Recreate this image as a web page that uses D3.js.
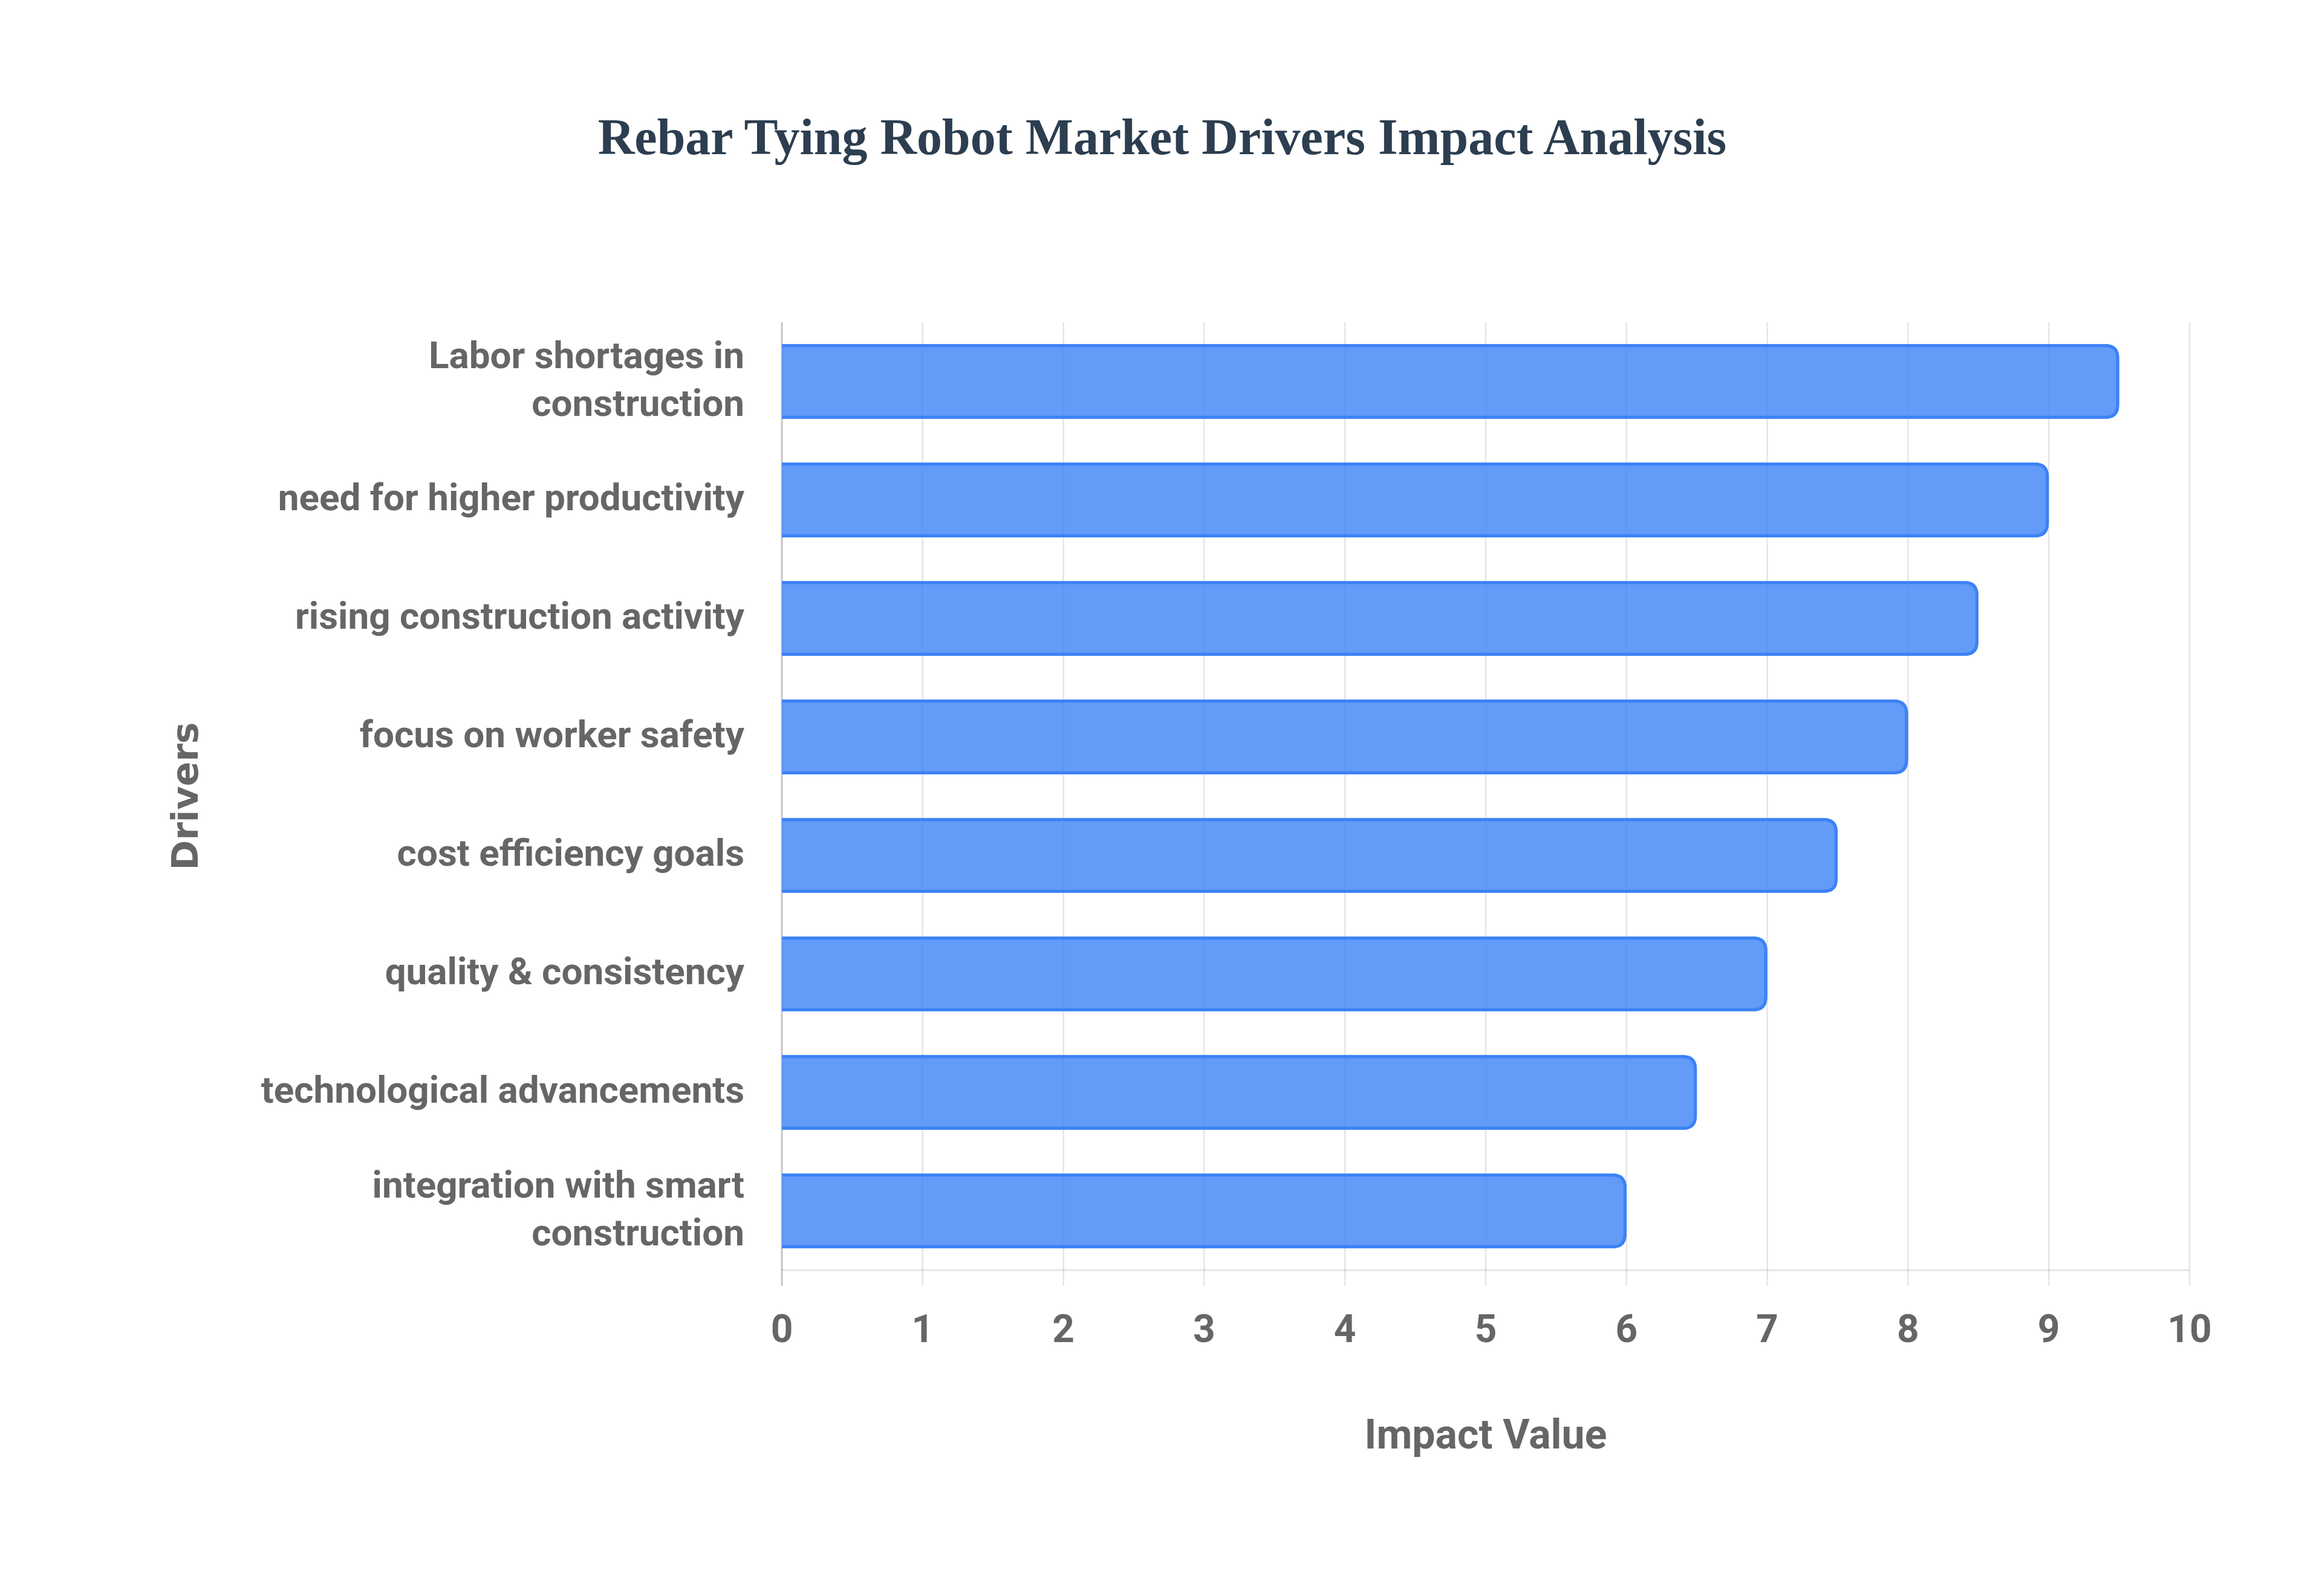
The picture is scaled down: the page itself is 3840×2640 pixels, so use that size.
<!DOCTYPE html>
<html>
<head>
<meta charset="utf-8">
<script src="https://cdn.jsdelivr.net/npm/d3@7"></script>
<style>
  html, body { margin: 0; padding: 0; background: #ffffff; }
  svg { display: block; }
</style>
</head>
<body>
<svg id="chart" width="3840" height="2640"></svg>
<script>
// ---- data ----
const chartTitle = "Rebar Tying Robot Market Drivers Impact Analysis";
const categoryLines = [
  ["Labor shortages in", "construction"],
  ["need for higher productivity"],
  ["rising construction activity"],
  ["focus on worker safety"],
  ["cost efficiency goals"],
  ["quality & consistency"],
  ["technological advancements"],
  ["integration with smart", "construction"]
];
const impactValues = [9.5, 9, 8.5, 8, 7.5, 7, 6.5, 6];
const xTicks = [0, 1, 2, 3, 4, 5, 6, 7, 8, 9, 10];
const xAxisTitle = "Impact Value";
const yAxisTitle = "Drivers";

// ---- layout ----
const W = 3840, H = 2640;
const plot = { left: 1293, right: 3621, top: 533, bottom: 2101 };
const svg = d3.select("#chart");

const x = d3.scaleLinear().domain([0, 10]).range([plot.left, plot.right]);
const y = d3.scaleBand()
  .domain(d3.range(categoryLines.length))
  .range([plot.top, plot.bottom])
  .paddingInner(0.37)
  .paddingOuter(0.185);

const gridColor = "rgba(0,0,0,0.1)";
const textColor = "#666666";
const sans = "Roboto, 'Liberation Sans', Arial, sans-serif";

// vertical grid lines (with tick extension)
svg.append("g").selectAll("line").data(xTicks).join("line")
  .attr("x1", d => x(d)).attr("x2", d => x(d))
  .attr("y1", plot.top).attr("y2", plot.bottom + 26)
  .attr("stroke", gridColor).attr("stroke-width", 2.5);

// axis border lines
svg.append("line")
  .attr("x1", plot.left).attr("x2", plot.left)
  .attr("y1", plot.top).attr("y2", plot.bottom + 26)
  .attr("stroke", "rgba(0,0,0,0.15)").attr("stroke-width", 3);
svg.append("line")
  .attr("x1", plot.left).attr("x2", plot.right)
  .attr("y1", plot.bottom).attr("y2", plot.bottom)
  .attr("stroke", "rgba(0,0,0,0.1)").attr("stroke-width", 3);

// bars
const sw = 5, r = 23;
function fillPath(v, i) {
  const x0 = x(0), x1 = x(v), y0 = y(i), y1 = y(i) + y.bandwidth();
  const rr = Math.min(r, (y1 - y0) / 2, x1 - x0);
  return `M${x0},${y0} H${x1 - rr} Q${x1},${y0} ${x1},${y0 + rr} V${y1 - rr} Q${x1},${y1} ${x1 - rr},${y1} H${x0} Z`;
}
function borderPath(v, i) {
  const h = sw / 2;
  const x0 = x(0), x1 = x(v) - h, y0 = y(i) + h, y1 = y(i) + y.bandwidth() - h;
  const rr = Math.min(r - h, (y1 - y0) / 2);
  return `M${x0},${y0} H${x1 - rr} Q${x1},${y0} ${x1},${y0 + rr} V${y1 - rr} Q${x1},${y1} ${x1 - rr},${y1} H${x0}`;
}
const bars = svg.append("g");
bars.selectAll("path.fill").data(impactValues).join("path")
  .attr("class", "fill")
  .attr("d", (d, i) => fillPath(d, i))
  .attr("fill", "rgba(59,130,246,0.8)");
bars.selectAll("path.border").data(impactValues).join("path")
  .attr("class", "border")
  .attr("d", (d, i) => borderPath(d, i))
  .attr("fill", "none")
  .attr("stroke", "#3b82f6")
  .attr("stroke-width", sw);

// y category labels
const lineH = 79;
const yLabels = svg.append("g")
  .attr("font-family", sans).attr("font-weight", 700)
  .attr("font-size", 62).attr("fill", textColor)
  .attr("text-anchor", "end");
categoryLines.forEach((lines, i) => {
  const c = y(i) + y.bandwidth() / 2 + 17;
  const t = yLabels.append("text").attr("x", plot.left - 62);
  lines.forEach((ln, k) => {
    t.append("tspan")
      .attr("x", plot.left - 62)
      .attr("y", c + (k - (lines.length - 1) / 2) * lineH)
      .text(ln);
  });
});

// x tick labels
svg.append("g").selectAll("text").data(xTicks).join("text")
  .attr("x", d => x(d)).attr("y", 2220)
  .attr("text-anchor", "middle")
  .attr("font-family", sans).attr("font-weight", 700)
  .attr("font-size", 64).attr("fill", textColor)
  .text(d => d);

// axis titles
svg.append("text")
  .attr("x", (plot.left + plot.right) / 2).attr("y", 2396)
  .attr("text-anchor", "middle")
  .attr("font-family", sans).attr("font-weight", 700)
  .attr("font-size", 68).attr("fill", textColor)
  .text(xAxisTitle);

svg.append("text")
  .attr("transform", `translate(327,${(plot.top + plot.bottom) / 2}) rotate(-90)`)
  .attr("text-anchor", "middle")
  .attr("font-family", "'DejaVu Sans', Verdana, sans-serif").attr("font-weight", 700)
  .attr("font-size", 60).attr("fill", textColor)
  .text(yAxisTitle);

// title
svg.append("text")
  .attr("x", 1922).attr("y", 255)
  .attr("text-anchor", "middle")
  .attr("font-family", "'Liberation Serif', 'Times New Roman', serif").attr("font-weight", 700)
  .attr("font-size", 84).attr("fill", "#2c3e50")
  .text(chartTitle);
</script>
</body>
</html>
